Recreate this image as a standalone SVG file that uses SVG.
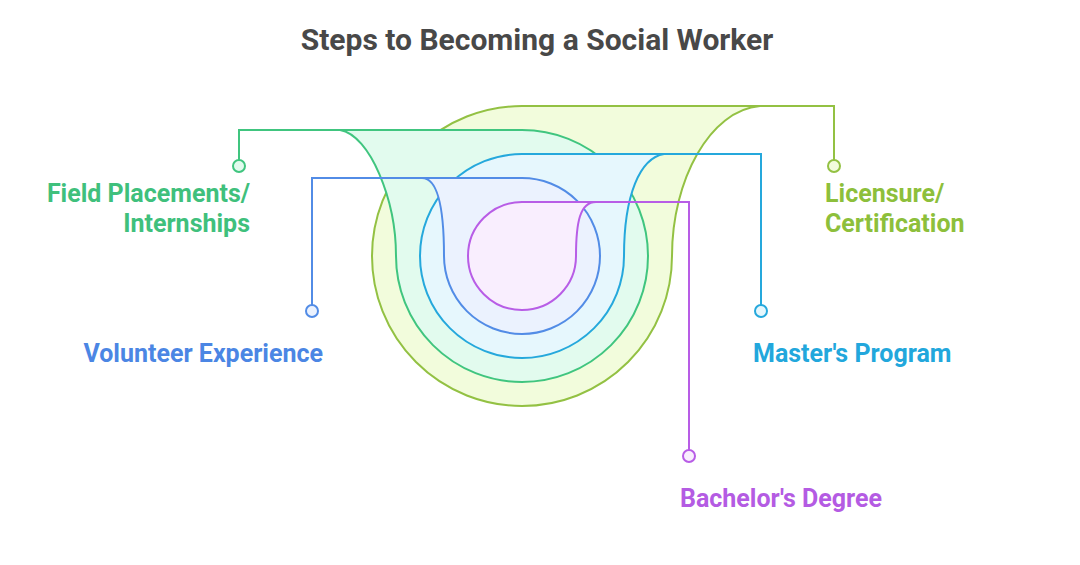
<svg xmlns="http://www.w3.org/2000/svg" width="1080" height="565" viewBox="0 0 1080 565">
<style>
  .shape { stroke-width: 2; stroke-linejoin: round; }
  .conn { fill: none; stroke-width: 2; }
  .lbl { font-family: Roboto, "Liberation Sans", sans-serif; font-weight: 700; font-size: 25px; }
  .title { font-family: Roboto, "Liberation Sans", sans-serif; font-weight: 700; font-size: 30px; fill: #484848; }
  .lime { stroke: #93c143; } .limef { fill: #f2fcdc; } .limet { fill: #8dbf3b; }
  .green { stroke: #40c57f; } .greenf { fill: #e2fbee; } .greent { fill: #3fc07c; }
  .cyan { stroke: #25a8dc; } .cyanf { fill: #e6f7fd; } .cyant { fill: #22a7dc; }
  .blue { stroke: #528ce6; } .bluef { fill: #ebf2fe; } .bluet { fill: #4b86e4; }
  .purple { stroke: #b85de6; } .purplef { fill: #f9eefe; } .purplet { fill: #b45be3; }
</style>
<rect width="1080" height="565" fill="#ffffff"/>
<text class="title" x="537" y="50" text-anchor="middle">Steps to Becoming a Social Worker</text>

<g id="licensure">
  <path class="shape lime limef" d="M 522 106 H 760 C 710 110 672 180 672 256 A 150 150 0 0 1 372 256 A 150 150 0 0 1 522 106 Z"/>
</g>
<g id="field-placements">
  <path class="shape green greenf" d="M 340 130 H 522 A 126 126 0 0 1 648 256 A 126 126 0 0 1 396 256 C 396 200 370 135 340 130 Z"/>
</g>
<g id="masters">
  <path class="shape cyan cyanf" d="M 420 256 A 102 102 0 0 1 522 154 H 664 C 640 158 624 195 624 256 A 102 102 0 0 1 420 256 Z"/>
</g>
<g id="volunteer">
  <path class="shape blue bluef" d="M 422 178 H 522 A 78 78 0 0 1 600 256 A 78 78 0 0 1 444 256 C 444 205 437 178 422 178 Z"/>
</g>
<g id="bachelors">
  <path class="shape purple purplef" d="M 468 256 A 54 54 0 0 1 522 202 H 596 C 580 202 576 222 576 256 A 54 54 0 0 1 468 256 Z"/>
</g>

<g id="connectors">
  <path class="conn lime" d="M 760 106 H 834 V 160"/>
  <circle class="lime limef" cx="834" cy="166" r="6" stroke-width="2"/>
  <path class="conn green" d="M 340 130 H 239 V 160"/>
  <circle class="green greenf" cx="239" cy="166" r="6" stroke-width="2"/>
  <path class="conn cyan" d="M 664 154 H 761 V 305"/>
  <circle class="cyan cyanf" cx="761" cy="311" r="6" stroke-width="2"/>
  <path class="conn blue" d="M 422 178 H 312 V 305"/>
  <circle class="blue bluef" cx="312" cy="311" r="6" stroke-width="2"/>
  <path class="conn purple" d="M 596 202 H 689 V 450"/>
  <circle class="purple purplef" cx="689" cy="456" r="6" stroke-width="2"/>
</g>

<g id="labels">
  <text class="lbl greent" x="250" y="201.5" text-anchor="end">Field Placements/</text>
  <text class="lbl greent" x="250" y="231.5" text-anchor="end">Internships</text>
  <text class="lbl bluet" x="323" y="361.5" text-anchor="end">Volunteer Experience</text>
  <text class="lbl limet" x="825" y="201.5">Licensure/</text>
  <text class="lbl limet" x="825" y="231.5">Certification</text>
  <text class="lbl cyant" x="753" y="361.5">Master's Program</text>
  <text class="lbl purplet" x="680" y="506.5">Bachelor's Degree</text>
</g>
</svg>
